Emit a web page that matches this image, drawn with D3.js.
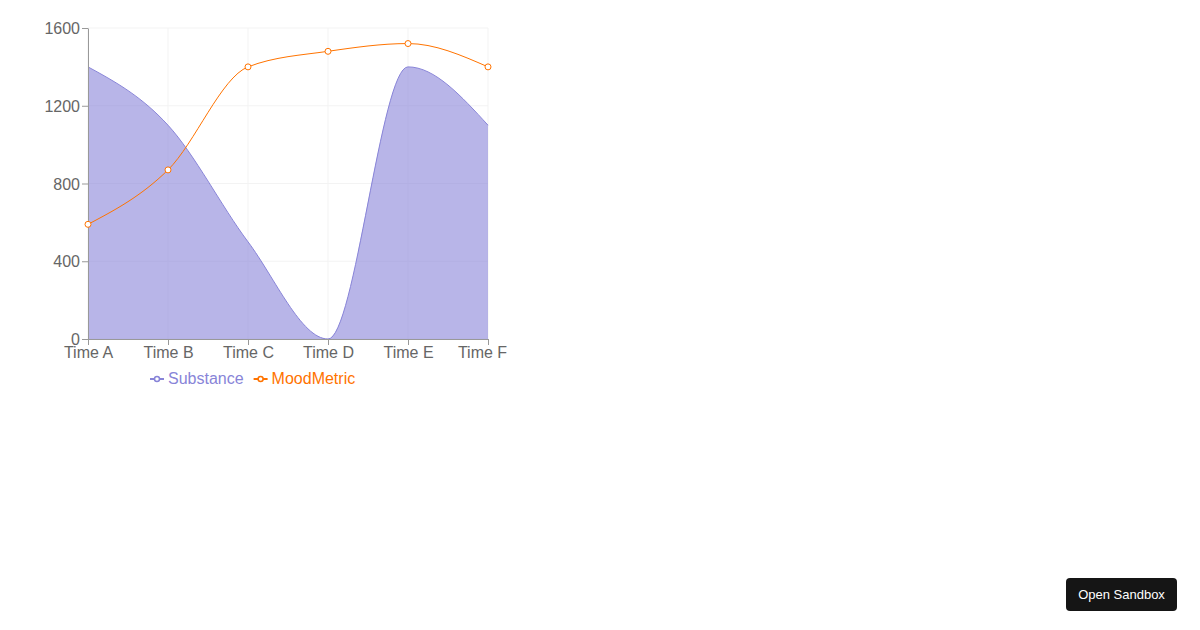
<!DOCTYPE html>
<html>
<head>
<meta charset="utf-8">
<script src="https://cdnjs.cloudflare.com/ajax/libs/d3/7.8.5/d3.min.js"></script>
<style>
  body { margin: 0; background: #fff; font-family: "Liberation Sans", Arial, sans-serif; }
  #chart { position: absolute; left: 0; top: 0; }
  .sandbox {
    position: absolute; left: 1066px; top: 578px; width: 111px; height: 33px;
    background: #151515; color: #fff; border-radius: 4px; font-size: 13px;
    display: flex; align-items: center; justify-content: center;
  }
</style>
</head>
<body>
<div id="chart"></div>
<div class="sandbox">Open Sandbox</div>
<script>
const categories = ["Time A", "Time B", "Time C", "Time D", "Time E", "Time F"];
const substance = [1400, 1100, 500, 0, 1400, 1100];
const moodMetric = [590, 870, 1400, 1480, 1520, 1400];
const yTicks = [0, 400, 800, 1200, 1600];

const width = 1200, height = 630;
const margin = {left: 88, right: 712, top: 28, bottom: 291};

const svg = d3.select("#chart").append("svg")
    .attr("width", width).attr("height", height);

const x = d3.scalePoint().domain(categories).range([margin.left, width - margin.right]);
const y = d3.scaleLinear().domain([0, 1600]).range([height - margin.bottom, margin.top]);

// grid
const grid = svg.append("g").attr("stroke", "#f3f3f3").attr("stroke-width", 1);
grid.selectAll(".h").data(yTicks).enter().append("line")
    .attr("x1", x.range()[0]).attr("x2", x.range()[1])
    .attr("y1", d => y(d)).attr("y2", d => y(d));
grid.selectAll(".v").data(categories).enter().append("line")
    .attr("x1", d => x(d)).attr("x2", d => x(d))
    .attr("y1", y.range()[0]).attr("y2", y.range()[1]);

// area
const area = d3.area()
    .x((d, i) => x(categories[i]))
    .y0(y(0))
    .y1(d => y(d))
    .curve(d3.curveMonotoneX);
const areaTop = d3.line()
    .x((d, i) => x(categories[i]))
    .y(d => y(d))
    .curve(d3.curveMonotoneX);
svg.append("path").datum(substance)
    .attr("d", area).attr("fill", "#8884d8").attr("fill-opacity", 0.6);
svg.append("path").datum(substance)
    .attr("d", areaTop).attr("fill", "none").attr("stroke", "#8884d8").attr("stroke-width", 1);

// axes
const xAxis = svg.append("g")
    .attr("transform", `translate(0,${y(0)})`)
    .call(d3.axisBottom(x).tickSize(6).tickSizeOuter(0).tickPadding(2));
const yAxis = svg.append("g")
    .attr("transform", `translate(${margin.left},0)`)
    .call(d3.axisLeft(y).tickValues(yTicks).tickFormat(d3.format("d"))
        .tickSize(6).tickSizeOuter(0).tickPadding(2));
[xAxis, yAxis].forEach(g => {
    g.select(".domain").attr("stroke", "#999");
    g.selectAll(".tick line").attr("stroke", "#999");
    g.selectAll(".tick text").attr("fill", "#666")
        .style("font-family", "Liberation Sans, Arial, sans-serif").style("font-size", "16px");
});
yAxis.selectAll(".tick text").attr("dy", "0.35em");
// last category label is pulled in to stay inside the chart box
xAxis.selectAll(".tick text").filter(d => d === categories[categories.length - 1])
    .attr("dx", -6);

// line
const line = d3.line()
    .x((d, i) => x(categories[i]))
    .y(d => y(d))
    .curve(d3.curveMonotoneX);
svg.append("path").datum(moodMetric)
    .attr("d", line).attr("fill", "none").attr("stroke", "#ff7300").attr("stroke-width", 1);
svg.selectAll(".dot").data(moodMetric).enter().append("circle")
    .attr("cx", (d, i) => x(categories[i])).attr("cy", d => y(d)).attr("r", 3)
    .attr("fill", "#fff").attr("stroke", "#ff7300").attr("stroke-width", 1);

// legend
const legendItems = [
    {name: "Substance", color: "#8884d8"},
    {name: "MoodMetric", color: "#ff7300"}
];
const legend = svg.append("g").attr("transform", "translate(150,378)");
let lx = 0;
legendItems.forEach(item => {
    const g = legend.append("g").attr("transform", `translate(${lx},0)`);
    g.append("line").attr("x1", 0).attr("x2", 14).attr("y1", 1).attr("y2", 1)
        .attr("stroke", item.color).attr("stroke-width", 2);
    g.append("circle").attr("cx", 7).attr("cy", 1).attr("r", 2.5)
        .attr("fill", "#fff").attr("stroke", item.color).attr("stroke-width", 1.5);
    const t = g.append("text").attr("x", 18).attr("y", 6)
        .attr("fill", item.color).style("font-size", "16px")
        .style("font-family", "Liberation Sans, Arial, sans-serif")
        .text(item.name);
    lx += 18 + t.node().getComputedTextLength() + 10;
});
</script>
</body>
</html>
